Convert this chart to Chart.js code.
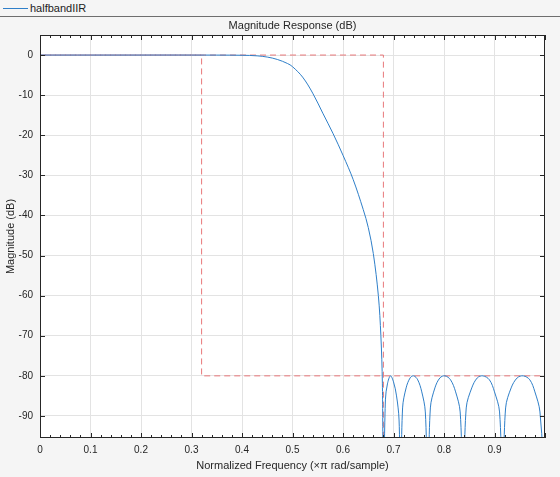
<!DOCTYPE html>
<html><head><meta charset="utf-8">
<script src="https://cdn.jsdelivr.net/npm/chart.js@4"></script>
<style>
body{margin:0;background:#f5f5f5;font-family:"Liberation Sans",Arial,sans-serif;}
#leg{height:16px;border-bottom:1px solid #6e6e6e;font-size:11px;line-height:16px;color:#222;position:relative}
#leg span.l{position:absolute;left:3px;top:8px;width:25px;border-top:1px solid #2f7fc9}
#leg span.t{position:absolute;left:30px;top:0}
#wrap{width:560px;height:460px}
</style></head><body>
<div id="leg"><span class="l"></span><span class="t">halfbandIIR</span></div>
<div id="wrap"><canvas id="c" width="560" height="460"></canvas></div>
<script>
const respX=[0,0.1,0.2,0.3,0.4,0.43,0.45,0.47,0.49,0.5,0.52,0.54,0.56,0.58,0.6,0.62,0.64,0.65,0.66,0.67,0.675,0.678,0.68,
0.684,0.688,0.694,0.700,0.706,0.711,0.714,
0.718,0.725,0.733,0.740,0.748,0.756,0.763,0.768,
0.773,0.782,0.792,0.802,0.813,0.823,0.832,0.838,
0.844,0.855,0.866,0.877,0.890,0.900,0.910,0.916,
0.922,0.933,0.945,0.957,0.970,0.980,0.990,1.0];
const respY=[0,0,0,0,-0.05,-0.2,-0.5,-1.1,-2.1,-2.9,-5.5,-9.5,-14.5,-19.5,-25,-31,-38.5,-43,-49.5,-60,-70,-82,-110,
-86,-82,-80,-81.5,-85,-91,-110,
-88,-83,-80.5,-80,-81,-84,-89,-110,
-88,-83,-80.5,-80,-81,-84,-89,-110,
-88,-83,-80.5,-80,-81,-84,-89,-110,
-88,-83,-80.5,-80,-81,-84,-89,-110];
const maskAX=[0,0.68,0.68], maskAY=[0,0,-110];
const maskBX=[0,0.32,0.32,1], maskBY=[0,0,-80,-80];
const xTicks=[0,0.1,0.2,0.3,0.4,0.5,0.6,0.7,0.8,0.9];
const yTicks=[0,-10,-20,-30,-40,-50,-60,-70,-80,-90];
const pts=(xs,ys)=>xs.map((x,i)=>({x,y:ys[i]}));
const deco={id:'deco',afterDraw(ch){const c=ch.ctx,a=ch.chartArea,xs=ch.scales.x,ys=ch.scales.y;
c.save();c.strokeStyle='#262626';c.lineWidth=1;c.strokeRect(a.left+0.5,a.top+0.5,a.right-a.left-1,a.bottom-a.top-1);
c.beginPath();
for(let v=0;v<=1.0001;v+=0.02){const p=Math.round(xs.getPixelForValue(v))+0.5;const L=(Math.abs(v*10-Math.round(v*10))<1e-6)?5:3;
c.moveTo(p,a.bottom);c.lineTo(p,a.bottom-L);c.moveTo(p,a.top);c.lineTo(p,a.top+L);}
for(let v=0;v>=-95;v-=10){const p=Math.round(ys.getPixelForValue(v))+0.5;c.moveTo(a.left,p);c.lineTo(a.left+5,p);c.moveTo(a.right,p);c.lineTo(a.right-5,p);}
c.stroke();
c.fillStyle='#262626';c.font='11px "Liberation Sans",Arial';c.textAlign='center';c.textBaseline='middle';
c.fillText('Magnitude Response (dB)',(a.left+a.right)/2,9);
c.restore();}};
new Chart(document.getElementById('c'),{type:'scatter',
data:{datasets:[
{data:pts(respX,respY),showLine:true,borderColor:'#2f7fc9',borderWidth:1,pointRadius:0,tension:0.35},
{data:pts(maskAX,maskAY),showLine:true,borderColor:'#e8787a',borderWidth:1,borderDash:[6,4],pointRadius:0},
{data:pts(maskBX,maskBY),showLine:true,borderColor:'#e8787a',borderWidth:1,borderDash:[6,4],borderDashOffset:5,pointRadius:0}]},
plugins:[{id:'bg',beforeDraw(ch){const a=ch.chartArea;ch.ctx.fillStyle='#fff';ch.ctx.fillRect(a.left,a.top,a.right-a.left,a.bottom-a.top);}},deco],
options:{responsive:false,animation:false,layout:{padding:{top:18,right:15,left:0,bottom:0}},
plugins:{legend:{display:false},tooltip:{enabled:false}},
scales:{
x:{type:'linear',min:0,max:1,afterBuildTicks:s=>{s.ticks=xTicks.map(v=>({value:v}));},
 afterFit:s=>{s.height=39;},
 grid:{color:'#e3e3e3',drawTicks:false},border:{display:false},
 ticks:{color:'#262626',font:{size:10,family:'Liberation Sans'},padding:6,maxRotation:0,callback:v=>String(v)},
 title:{display:true,text:'Normalized Frequency (×π rad/sample)',color:'#262626',font:{size:11,family:'Liberation Sans'},padding:{top:2}}},
y:{type:'linear',min:-95.5,max:5,afterBuildTicks:s=>{s.ticks=yTicks.map(v=>({value:v}));},
 afterFit:s=>{s.width=40;},
 grid:{color:'#e3e3e3',drawTicks:false},border:{display:false},
 ticks:{color:'#262626',font:{size:10,family:'Liberation Sans'},padding:7},
 title:{display:true,text:'Magnitude (dB)',color:'#262626',font:{size:11,family:'Liberation Sans'},padding:{bottom:0}}}}}});
</script></body></html>
